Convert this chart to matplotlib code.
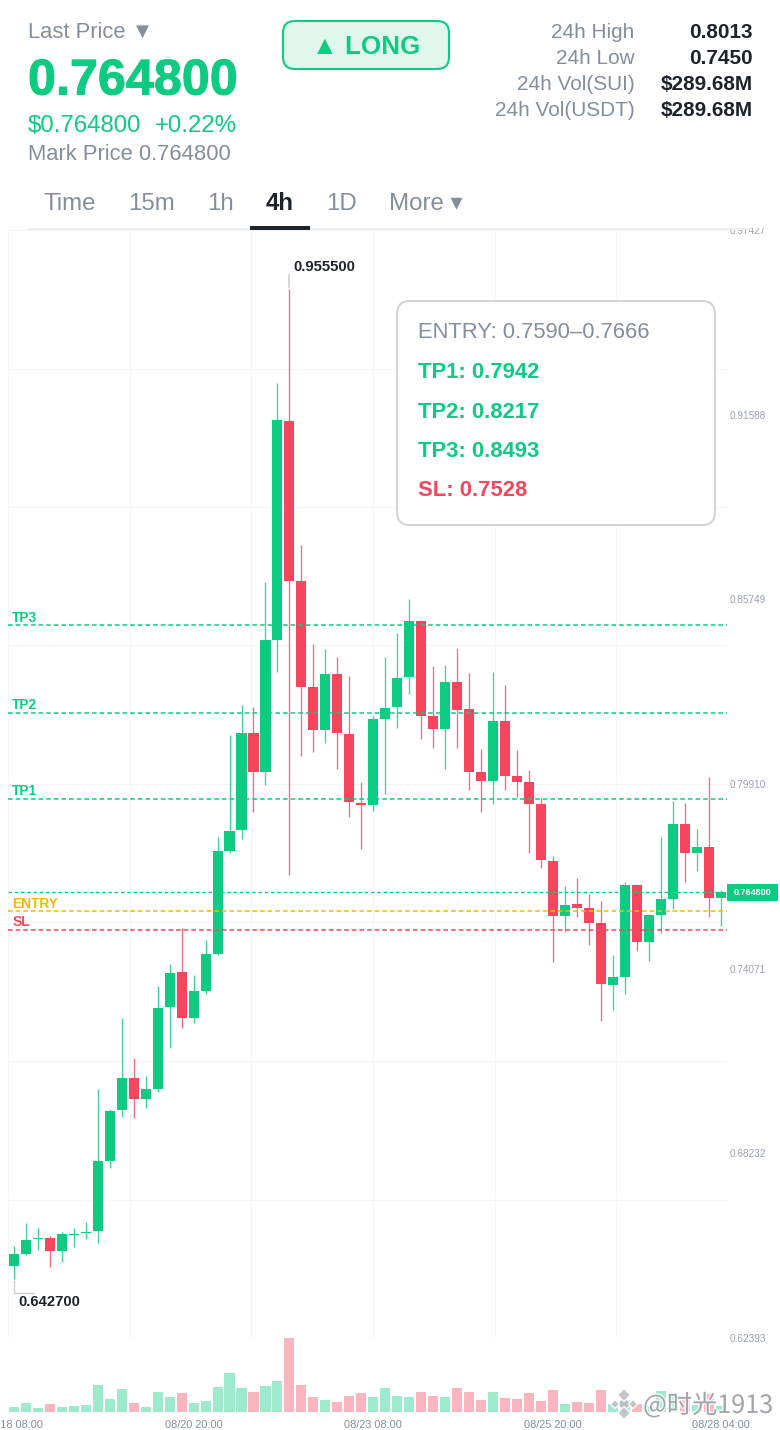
#!/usr/bin/env python3
import numpy as np
import matplotlib
matplotlib.use("Agg")
import matplotlib.pyplot as plt
from matplotlib.patches import FancyBboxPatch, Rectangle
from matplotlib.transforms import IdentityTransform
import matplotlib.patheffects as pe

plt.rcParams["font.family"] = ["Liberation Sans", "DejaVu Sans"]

# 4h candles
opens = [0.6467, 0.6504, 0.6552, 0.6555, 0.6513, 0.6565, 0.6570, 0.6578, 0.6799, 0.6959,
         0.7060, 0.6994, 0.7026, 0.7285, 0.7396, 0.7250, 0.7336, 0.7454, 0.7779, 0.7845,
         0.8153, 0.8030, 0.8445, 0.9139, 0.8634, 0.8297, 0.8161, 0.8338, 0.8150, 0.7932,
         0.7926, 0.8197, 0.8234, 0.8330, 0.8506, 0.8205, 0.8165, 0.8315, 0.8227, 0.8029,
         0.8001, 0.8191, 0.8017, 0.7996, 0.7929, 0.7748, 0.7575, 0.7611, 0.7598, 0.7551,
         0.7356, 0.7382, 0.7671, 0.7491, 0.7578, 0.7627, 0.7866, 0.7772, 0.7792, 0.7632]
closes = [0.6505, 0.6549, 0.6554, 0.6513, 0.6567, 0.6568, 0.6576, 0.6799, 0.6958, 0.7060,
          0.6994, 0.7026, 0.7283, 0.7394, 0.7250, 0.7336, 0.7453, 0.7778, 0.7842, 0.8153,
          0.8029, 0.8445, 0.9141, 0.8634, 0.8299, 0.8162, 0.8338, 0.8151, 0.7933, 0.7926,
          0.8197, 0.8232, 0.8327, 0.8505, 0.8207, 0.8164, 0.8314, 0.8226, 0.8030, 0.8001,
          0.8190, 0.8017, 0.7998, 0.7929, 0.7750, 0.7575, 0.7608, 0.7598, 0.7551, 0.7358,
          0.7380, 0.7671, 0.7491, 0.7577, 0.7627, 0.7866, 0.7772, 0.7791, 0.7632, 0.7648]
highs = [0.6530, 0.6603, 0.6587, 0.6562, 0.6575, 0.6587, 0.6606, 0.7027, 0.6963, 0.7251,
         0.7125, 0.7068, 0.7353, 0.7421, 0.7535, 0.7387, 0.7497, 0.7824, 0.8147, 0.8241,
         0.8234, 0.8630, 0.9258, 0.9555, 0.8746, 0.8433, 0.8417, 0.8394, 0.8333, 0.7996,
         0.8206, 0.8393, 0.8468, 0.8577, 0.8510, 0.8364, 0.8368, 0.8422, 0.8341, 0.8101,
         0.8345, 0.8304, 0.8099, 0.8035, 0.7947, 0.7762, 0.7669, 0.7695, 0.7643, 0.7620,
         0.7449, 0.7682, 0.7675, 0.7580, 0.7823, 0.7936, 0.7930, 0.7848, 0.8012, 0.7657]
lows = [0.6427, 0.6502, 0.6518, 0.6464, 0.6480, 0.6527, 0.6552, 0.6540, 0.6777, 0.6939,
        0.6935, 0.6968, 0.7018, 0.7157, 0.7220, 0.7236, 0.7328, 0.7450, 0.7772, 0.7816,
        0.7903, 0.7988, 0.8345, 0.7702, 0.8080, 0.8093, 0.8122, 0.8038, 0.7888, 0.7785,
        0.7907, 0.7959, 0.8169, 0.8277, 0.8132, 0.8106, 0.8039, 0.8105, 0.7972, 0.7903,
        0.7928, 0.7972, 0.7951, 0.7774, 0.7725, 0.7429, 0.7524, 0.7570, 0.7482, 0.7243,
        0.7276, 0.7326, 0.7464, 0.7431, 0.7519, 0.7595, 0.7681, 0.7715, 0.7571, 0.7542]
volumes = [5.0, 8.7, 3.7, 8.3, 4.7, 6.3, 6.7, 27.0, 13.0, 23.3,
           9.3, 5.3, 20.3, 15.0, 19.3, 8.7, 11.3, 25.3, 39.0, 24.0,
           20.3, 25.7, 31.3, 74.0, 27.0, 14.7, 11.7, 10.3, 16.0, 19.0,
           15.0, 24.0, 16.0, 15.0, 19.7, 15.7, 14.7, 24.3, 19.7, 12.0,
           20.3, 14.0, 13.3, 19.0, 11.0, 21.7, 8.0, 10.0, 9.0, 22.0,
           8.0, 12.0, 7.7, 6.0, 21.3, 18.7, 13.7, 7.3, 17.7, 6.0]

price_ticks = [0.62393, 0.68232, 0.74071, 0.79910, 0.85749, 0.91588, 0.97427]
price_labels = ["0.62393", "0.68232", "0.74071", "0.79910", "0.85749", "0.91588", "0.97427"]
time_ticks = [0, 15, 30, 45, 59]
time_labels = ["08/18 08:00", "08/20 20:00", "08/23 08:00", "08/25 20:00", "08/28 04:00"]

last_price = 0.7648
tp1, tp2, tp3 = 0.7942, 0.8217, 0.8493
entry_low = 0.7590
stop_loss = 0.7528

stat_names = ["24h High", "24h Low", "24h Vol(SUI)", "24h Vol(USDT)"]
stat_values = ["0.8013", "0.7450", "$289.68M", "$289.68M"]
tab_names = ["Time", "15m", "1h", "4h", "1D", "More ▾"]

GREEN = "#0ECB81"
RED = "#F6465D"
YELLOW = "#F0B90B"
GRAY = "#848E9C"
DARK = "#1E2329"
GRID = "#F5F6F7"

W, H = 780, 1430
fig = plt.figure(figsize=(W / 100, H / 100), dpi=100, facecolor="white")


def px_axes(left, top, right, bottom):
    return fig.add_axes([left / W, 1 - bottom / H, (right - left) / W, (bottom - top) / H])


def fs(px):
    return px * 0.72


# ---- price panel
ax = px_axes(7.9, 230, 726.7, 1338)
ax.set_xlim(-0.5, 59.5)
ax.set_ylim(price_ticks[0], price_ticks[-1])
for s in ax.spines.values():
    s.set_visible(False)

x = np.arange(len(opens))
o, c, h, l = map(np.array, (opens, closes, highs, lows))
colors = np.where(c >= o, GREEN, RED)

ax.hlines(np.linspace(price_ticks[0], price_ticks[-1], 9), -0.5, 59.5, color=GRID, lw=0.8, zorder=1)
ax.vlines(-0.5 + 10.16 * np.arange(6), price_ticks[0], price_ticks[-1], color=GRID, lw=0.8, zorder=1)

ax.vlines(x, l, h, color=colors, lw=0.95, alpha=0.8, zorder=2)
ax.bar(x, np.maximum(np.abs(c - o), 0.0004), bottom=np.minimum(o, c), width=0.84, color=colors, zorder=3)

levels = [(tp3, GREEN, "TP3", 3.5), (tp2, GREEN, "TP2", 3.5), (tp1, GREEN, "TP1", 4),
          (entry_low, YELLOW, "ENTRY", 3), (stop_loss, RED, "SL", 4)]
for level, col, name, dy in levels:
    ax.axhline(level, color=col, lw=1.1, ls=(0, (3, 2)), zorder=4)
    ax.annotate(name, xy=(0, level), xycoords=("axes fraction", "data"),
                xytext=(4.2, dy), textcoords="offset pixels", color=col,
                fontsize=fs(13.7), fontweight="bold", va="baseline", zorder=5)
ax.axhline(last_price, color=GREEN, lw=1.0, ls=(0, (2.5, 2)), zorder=4)

ax.yaxis.tick_right()
ax.set_yticks(price_ticks, price_labels)
ax.tick_params(axis="y", length=0, pad=2.4, labelsize=fs(10), labelcolor="#9AA1AC")
ax.set_xticks([])

# high / low callouts
hi_i, lo_i = int(np.argmax(h)), int(np.argmin(l))
hx, hy = ax.transData.transform((hi_i, h[hi_i]))
lx, ly = ax.transData.transform((lo_i, l[lo_i]))
ident = IdentityTransform()
ax.plot([hx, hx], [hy + 2, hy + 14], color="#C9CCD1", lw=1.1, transform=ident, clip_on=False, zorder=5)
ax.plot([lx, lx, lx + 20], [ly - 2, ly - 14, ly - 14], color="#C9CCD1", lw=1.0, transform=ident, clip_on=False, zorder=5)
ax.annotate(f"{h[hi_i]:.6f}", xy=(hi_i, h[hi_i]), xytext=(3.7, 18), textcoords="offset pixels",
            fontsize=fs(14.9), fontweight="bold", color=DARK, va="baseline", zorder=6)
ax.annotate(f"{l[lo_i]:.6f}", xy=(lo_i, l[lo_i]), xytext=(4, -27), textcoords="offset pixels",
            fontsize=fs(14.9), fontweight="bold", color=DARK, va="baseline", zorder=6)

# ---- volume panel
ax_v = px_axes(7.9, 1338, 726.7, 1412)
ax_v.set_xlim(-0.5, 59.5)
ax_v.set_ylim(0, max(volumes))
ax_v.patch.set_alpha(0)
for s in ax_v.spines.values():
    s.set_visible(False)
ax_v.bar(x, volumes, width=0.84, color=colors, alpha=0.4)
ax_v.set_yticks([])
ax_v.set_xticks(time_ticks, time_labels)
ax_v.tick_params(axis="x", length=0, pad=6, labelsize=fs(11), labelcolor=GRAY)

# ---- header and overlays, in pixels
top = fig.add_axes([0, 0, 1, 1], zorder=10)
top.set_xlim(0, W)
top.set_ylim(H, 0)
top.axis("off")
top.patch.set_alpha(0)

top.add_patch(Rectangle((0, 0), W, 228, fc="white", ec="none", zorder=0))
top.add_patch(Rectangle((28, 228), 724, 2, fc="#ECEDEF", ec="none", zorder=1))
top.add_patch(Rectangle((250, 226), 60, 4, fc=DARK, ec="none", zorder=2))

top.text(28, 38, "Last Price ▼", color=GRAY, fontsize=fs(22), va="baseline")
top.text(28, 94.5, "0.764800", color=GREEN, fontsize=fs(50.3), fontweight="bold", va="baseline",
         path_effects=[pe.withStroke(linewidth=0.7, foreground=GREEN)])
top.text(28, 132, "$0.764800", color=GREEN, fontsize=fs(24), va="baseline")
top.text(155, 132, "+0.22%", color=GREEN, fontsize=fs(24), va="baseline")
top.text(28, 160, "Mark Price 0.764800", color=GRAY, fontsize=fs(22), va="baseline")

top.add_patch(FancyBboxPatch((283, 21), 166, 48, boxstyle="round,pad=0,rounding_size=12",
                             fc="#DFF7EC", ec=GREEN, lw=1.5, zorder=2))
top.text(366, 54.3, "▲ LONG", color=GREEN, fontsize=fs(26), fontweight="bold",
         ha="center", va="baseline", zorder=3)

for name, val, y in zip(stat_names, stat_values, [38.5, 64, 90, 116]):
    top.text(634.5, y, name, color=GRAY, fontsize=fs(20.8), ha="right", va="baseline")
    top.text(752.5, y, val, color=DARK, fontsize=fs(20.8), fontweight="bold", ha="right", va="baseline")

for name, tx in zip(tab_names, [44, 128, 207, 266, 326, 389]):
    active = name == "4h"
    top.text(tx, 210, name, color=DARK if active else GRAY, fontsize=fs(24),
             fontweight="bold" if active else "normal", va="baseline")

# targets card
top.add_patch(FancyBboxPatch((397, 301), 318, 224, boxstyle="round,pad=0,rounding_size=13",
                             fc="white", ec="#D1D5DB", lw=1.5, zorder=5))
top.text(418, 338, f"ENTRY: {entry_low:.4f}–0.7666", color=GRAY, fontsize=fs(22), va="baseline", zorder=6)
card_rows = [(f"TP1: {tp1:.4f}", GREEN, 378.3), (f"TP2: {tp2:.4f}", GREEN, 418),
             (f"TP3: {tp3:.4f}", GREEN, 456.7), (f"SL: {stop_loss:.4f}", RED, 496)]
for txt, col, y in card_rows:
    top.text(418, y, txt, color=col, fontsize=fs(22), fontweight="bold", va="baseline", zorder=6)

# last price tag
tag_y = H - ax.transData.transform((0, last_price))[1]
top.add_patch(Rectangle((727, tag_y - 8), 51, 16.5, fc=GREEN, ec="none", zorder=5))
top.text(752.5, tag_y + 0.3, f"{last_price:.6f}", color="white", fontsize=fs(9), fontweight="bold",
         ha="center", va="center", zorder=6)

# watermark
halo = [pe.withStroke(linewidth=2.2, foreground="white", alpha=0.8)]
top.text(643, 1413, "@时光1913", color="#8A8D93", alpha=0.75, fontsize=fs(25.2), va="baseline", zorder=8,
         family=["Noto Sans CJK SC", "DejaVu Sans"], path_effects=halo)
top.scatter([624, 615, 633, 624, 624], [1404, 1404, 1404, 1395, 1413], marker="D",
            s=[60, 22, 22, 44, 44], c="#B9BCC2", edgecolors="white", linewidths=1.2, alpha=0.85, zorder=8)

fig.savefig("out.png", dpi=100)
